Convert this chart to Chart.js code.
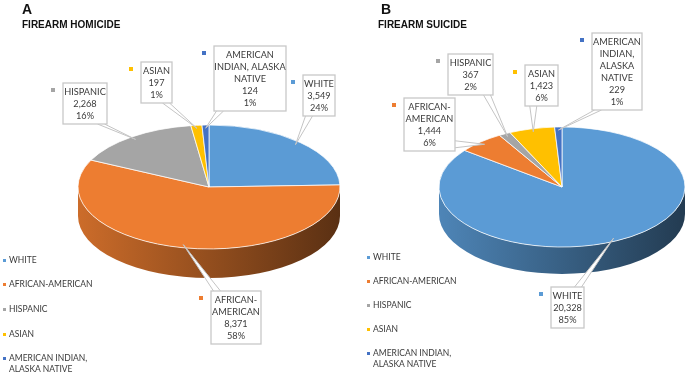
<!DOCTYPE html>
<html>
<head>
<meta charset="utf-8">
<script src="https://cdn.jsdelivr.net/npm/chart.js@4/dist/chart.umd.min.js"></script>
<style>
  body { margin: 0; width: 685px; height: 376px; position: relative; overflow: hidden; background: #fff; font-family: Lato, "Open Sans", sans-serif; color: #404040; }
  .panel { position: absolute; top: 0; height: 376px; }
  .letter { position: absolute; top: 1px; font: bold 14px "Liberation Sans", Arial, sans-serif; color: #111; }
  .title { position: absolute; top: 19px; font: bold 10px "Liberation Sans", Arial, sans-serif; color: #111; white-space: nowrap; }
  .leg { position: absolute; font-size: 8.5px; line-height: 11px; white-space: nowrap; color: #3a3a3a; }
  .leg i { position: absolute; width: 3px; height: 3px; left: -6px; top: 4px; }
</style>
</head>
<body>
<div class="panel" id="wrapA" style="left:0;width:345px"><canvas id="chartA"></canvas></div>
<div class="panel" id="wrapB" style="left:345px;width:340px"><canvas id="chartB"></canvas></div>
<div class="letter" style="left:22px">A</div>
<div class="title" style="left:22px">FIREARM HOMICIDE</div>
<div class="letter" style="left:381px">B</div>
<div class="title" style="left:378px">FIREARM SUICIDE</div>
<div id="legA"></div>
<div id="legB"></div>
<script>
// data
const categories = ['WHITE', 'AFRICAN-AMERICAN', 'HISPANIC', 'ASIAN', 'AMERICAN INDIAN, ALASKA NATIVE'];
const homicideValues = [3549, 8371, 2268, 197, 124];
const suicideValues = [20328, 1444, 367, 1423, 229];
const colors = ['#5B9BD5', '#ED7D31', '#A5A5A5', '#FFC000', '#4472C4'];

// label wrapping per chart (text layout only)
const namesA = ['WHITE', 'AFRICAN-\nAMERICAN', 'HISPANIC', 'ASIAN', 'AMERICAN\nINDIAN, ALASKA\nNATIVE'];
const namesB = ['WHITE', 'AFRICAN-\nAMERICAN', 'HISPANIC', 'ASIAN', 'AMERICAN\nINDIAN,\nALASKA\nNATIVE'];
const legendNames = ['WHITE', 'AFRICAN-AMERICAN', 'HISPANIC', 'ASIAN', 'AMERICAN INDIAN,\nALASKA NATIVE'];

// callout boxes [x, y, w] in page px, same order as categories
const boxesA = [[303, 75, 32], [211, 291, 50], [63, 83, 44], [141, 62, 31], [214, 46, 72]];
const boxesB = [[551, 287, 33], [404, 98, 51], [448, 54, 45], [525, 65, 33], [592, 33, 50]];

function shade(hex, f) {
  const n = parseInt(hex.slice(1), 16);
  const r = Math.round(((n >> 16) & 255) * f), g = Math.round(((n >> 8) & 255) * f), b = Math.round((n & 255) * f);
  return 'rgb(' + r + ',' + g + ',' + b + ')';
}

// draws the pie squashed into an ellipse with a shaded side, plus callouts
const pie3d = {
  id: 'pie3d',
  beforeDatasetsDraw(chart, args, o) {
    const ctx = chart.ctx;
    const arcs = chart.getDatasetMeta(0).data;
    arcs.forEach((arc, i) => {
      const s = Math.max(arc.startAngle, 0), e = Math.min(arc.endAngle, Math.PI);
      if (e <= s) return;
      const rx = arc.outerRadius, ry = rx * o.tilt;
      const base = colors[i];
      const g = ctx.createLinearGradient(arc.x - rx, 0, arc.x + rx, 0);
      g.addColorStop(0, shade(base, 0.86));
      g.addColorStop(0.5, shade(base, 0.62));
      g.addColorStop(1, shade(base, 0.38));
      ctx.save();
      ctx.beginPath();
      ctx.ellipse(arc.x, arc.y, rx, ry, 0, s, e);
      ctx.ellipse(arc.x, arc.y + o.depth, rx, ry, 0, e, s, true);
      ctx.closePath();
      ctx.fillStyle = g;
      ctx.fill();
      ctx.restore();
    });
  },
  beforeDatasetDraw(chart, args, o) {
    const ctx = chart.ctx;
    const cy = chart.getDatasetMeta(0).data[0].y;
    ctx.save();
    ctx.translate(0, cy);
    ctx.scale(1, o.tilt);
    ctx.translate(0, -cy);
  },
  afterDatasetDraw(chart) {
    chart.ctx.restore();
  },
  afterDraw(chart, args, o) {
    const ctx = chart.ctx;
    const arcs = chart.getDatasetMeta(0).data;
    const vals = chart.data.datasets[0].data;
    const total = vals.reduce((a, b) => a + b, 0);
    arcs.forEach((arc, i) => {
      const mid = (arc.startAngle + arc.endAngle) / 2;
      const ax = arc.x + arc.outerRadius * 0.95 * Math.cos(mid);
      const ay = arc.y + arc.outerRadius * 0.95 * o.tilt * Math.sin(mid);
      const lines = o.names[i].split('\n').concat([vals[i].toLocaleString('en-US'), Math.round(vals[i] / total * 100) + '%']);
      const b = { x: o.boxes[i][0] - o.left, y: o.boxes[i][1], w: o.boxes[i][2], h: lines.length * 12 + 5 };
      // wedge pointer
      let p1, p2;
      const cl = (v, a, c) => Math.min(Math.max(v, a), c);
      if (ay > b.y + b.h || ay < b.y) {
        const by = ay > b.y + b.h ? b.y + b.h : b.y;
        const bx = cl(ax, b.x + 6, b.x + b.w - 6);
        p1 = [bx - 3.5, by]; p2 = [bx + 3.5, by];
      } else {
        const bx = ax < b.x ? b.x : b.x + b.w;
        const by = cl(ay, b.y + 6, b.y + b.h - 6);
        p1 = [bx, by - 3.5]; p2 = [bx, by + 3.5];
      }
      ctx.save();
      ctx.beginPath();
      ctx.moveTo(p1[0], p1[1]);
      ctx.lineTo(ax, ay);
      ctx.lineTo(p2[0], p2[1]);
      ctx.fillStyle = '#fff';
      ctx.fill();
      ctx.strokeStyle = '#c4c4c4';
      ctx.lineWidth = 1;
      ctx.stroke();
      // box
      ctx.fillStyle = '#fff';
      ctx.fillRect(b.x, b.y, b.w, b.h);
      ctx.strokeStyle = '#c8c8c8';
      ctx.lineWidth = 1.3;
      ctx.strokeRect(b.x, b.y, b.w, b.h);
      ctx.fillStyle = '#3a3a3a';
      ctx.font = '9.2px Lato';
      ctx.textAlign = 'center';
      ctx.textBaseline = 'middle';
      lines.forEach((t, j) => ctx.fillText(t, b.x + b.w / 2, b.y + 9 + j * 12));
      // marker
      ctx.fillStyle = colors[i];
      ctx.fillRect(b.x - 12, b.y + 5, 4, 4);
      ctx.restore();
    });
  }
};

function makeChart(id, values, left, radius, pad, tilt, depth, names, boxes) {
  return new Chart(document.getElementById(id), {
    type: 'pie',
    data: {
      labels: categories,
      datasets: [{
        data: values,
        backgroundColor: colors,
        borderColor: '#ffffff',
        borderWidth: 1,
        hoverOffset: 0,
        radius: radius,
        clip: false
      }]
    },
    options: {
      responsive: true,
      maintainAspectRatio: false,
      animation: false,
      events: [],
      layout: { padding: pad },
      plugins: {
        legend: { display: false },
        tooltip: { enabled: false },
        pie3d: { tilt: tilt, depth: depth, names: names, boxes: boxes, left: left }
      }
    },
    plugins: [pie3d]
  });
}

makeChart('chartA', homicideValues, 0, 131, { left: 78, right: 5, top: 56, bottom: 58 }, 0.473, 29, namesA, boxesA);
makeChart('chartB', suicideValues, 345, 123, { left: 94, right: 0, top: 64, bottom: 66 }, 0.488, 27, namesB, boxesB);

// legends
function buildLegend(elId, x, rows) {
  const el = document.getElementById(elId);
  categories.forEach((c, i) => {
    const d = document.createElement('div');
    d.className = 'leg';
    d.style.left = x + 'px';
    d.style.top = (rows[i] - 5.5) + 'px';
    d.innerHTML = '<i style="background:' + colors[i] + '"></i>' + legendNames[i].replace('\n', '<br>');
    el.appendChild(d);
  });
}
buildLegend('legA', 9, [260, 284, 309, 334, 358]);
buildLegend('legB', 373, [257, 281, 305, 329, 353]);
</script>
</body>
</html>
